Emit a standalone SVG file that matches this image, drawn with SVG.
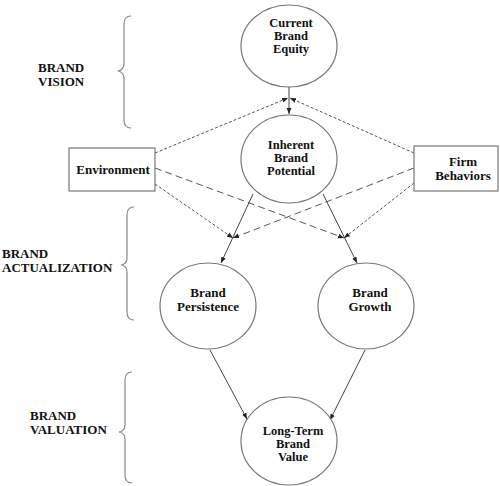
<svg xmlns="http://www.w3.org/2000/svg" width="500" height="486" viewBox="0 0 500 486">
<defs>
<style>
text{font-family:"Liberation Serif","Times New Roman",serif;font-weight:bold;font-size:13px;fill:#111}
.n text{text-anchor:middle;font-size:12.5px}
.node{fill:#fff;stroke:#777;stroke-width:1.2}
.box{fill:#fff;stroke:#777;stroke-width:1.2}
.brace{fill:none;stroke:#888;stroke-width:1.2}
.solid{stroke:#444;stroke-width:1;fill:none;marker-end:url(#ah)}
.sd{stroke:#555;stroke-width:1;fill:none;stroke-dasharray:3 2;marker-end:url(#ah)}
.ld{stroke:#555;stroke-width:1;fill:none;stroke-dasharray:7 4;marker-end:url(#ah)}
</style>
<marker id="ah" viewBox="0 0 10 10" refX="10" refY="5" markerWidth="6" markerHeight="6" orient="auto" markerUnits="userSpaceOnUse">
<path d="M0,1 L10,5 L0,9 z" fill="#222"/>
</marker>
</defs>
<rect width="500" height="486" fill="#fff"/>

<g id="braces">
<path class="brace" d="M131,16 Q124,16 124,24 L124,63 Q124,70 118,71 Q124,72 124,79 L124,120 Q124,128 131,128"/>
<path class="brace" d="M134,207 Q127,207 127,215 L127,258 Q127,264 121,265 Q127,266 127,272 L127,312 Q127,320 134,320"/>
<path class="brace" d="M132,372 Q125,372 125,380 L125,425 Q125,431 119,432 Q125,433 125,439 L125,475 Q125,483 132,483"/>
</g>

<g id="labels">
<text x="38" y="72">BRAND</text>
<text x="38" y="86">VISION</text>
<text x="2" y="258">BRAND</text>
<text x="2" y="272">ACTUALIZATION</text>
<text x="30" y="420">BRAND</text>
<text x="30" y="434">VALUATION</text>
</g>

<g id="connectors">
<line class="solid" x1="289" y1="86" x2="289" y2="114"/>
<line class="sd" x1="155" y1="153" x2="288" y2="98"/>
<line class="sd" x1="414" y1="153" x2="290" y2="98"/>
<line class="ld" x1="155" y1="168" x2="344" y2="238"/>
<line class="sd" x1="155" y1="184" x2="233" y2="238"/>
<line class="ld" x1="414" y1="168" x2="233" y2="238"/>
<line class="sd" x1="414" y1="183" x2="344" y2="238"/>
<line class="solid" x1="253" y1="194" x2="221" y2="263"/>
<line class="solid" x1="323" y1="194" x2="357" y2="263"/>
<line class="solid" x1="210" y1="350" x2="247" y2="419"/>
<line class="solid" x1="365" y1="350" x2="330" y2="420"/>
</g>

<g id="current-brand-equity" class="n">
<ellipse class="node" cx="289" cy="46" rx="48" ry="41"/>
<text x="291" y="27">Current</text>
<text x="291" y="40">Brand</text>
<text x="291" y="53">Equity</text>
</g>

<g id="inherent-brand-potential" class="n">
<ellipse class="node" cx="289" cy="159" rx="48" ry="44"/>
<text x="291" y="149">Inherent</text>
<text x="291" y="162">Brand</text>
<text x="291" y="175">Potential</text>
</g>

<g id="environment" class="n">
<rect class="box" x="69" y="148" width="86" height="43"/>
<text x="113" y="174" style="font-size:13px">Environment</text>
</g>

<g id="firm-behaviors" class="n">
<rect class="box" x="414" y="146" width="84" height="45"/>
<text x="463" y="166" style="font-size:13px">Firm</text>
<text x="463" y="180" style="font-size:13px">Behaviors</text>
</g>

<g id="brand-persistence" class="n">
<ellipse class="node" cx="208" cy="306" rx="48" ry="43"/>
<text x="208" y="297" style="font-size:13px">Brand</text>
<text x="208" y="311" style="font-size:13px">Persistence</text>
</g>

<g id="brand-growth" class="n">
<ellipse class="node" cx="366" cy="306" rx="48" ry="43"/>
<text x="370" y="297" style="font-size:13px">Brand</text>
<text x="370" y="311" style="font-size:13px">Growth</text>
</g>

<g id="long-term-brand-value" class="n">
<ellipse class="node" cx="289" cy="441" rx="48" ry="44"/>
<text x="293" y="435">Long-Term</text>
<text x="293" y="448">Brand</text>
<text x="293" y="461">Value</text>
</g>
</svg>
